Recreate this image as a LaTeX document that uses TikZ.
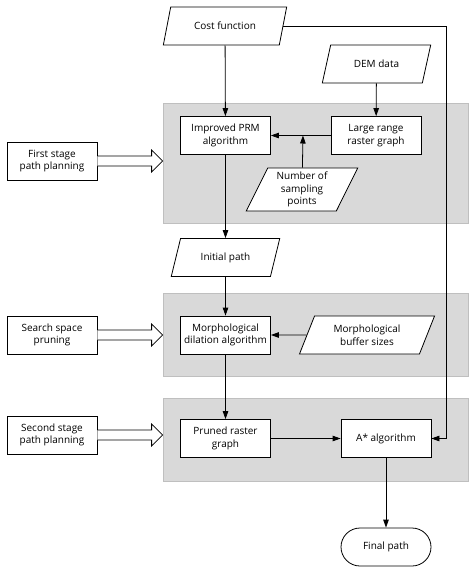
\documentclass[tikz,border=0pt]{standalone}
\usepackage{fontspec}
\setmainfont{Open Sans}
\usetikzlibrary{shapes.geometric,arrows.meta,calc}
\begin{document}
\begin{tikzpicture}[x=1pt,y=-1pt,>={Triangle[length=8pt,width=5.5pt]},
    every node/.style={font=\fontsize{10}{12.5}\selectfont, align=center, line width=0.8pt},
    box/.style={draw, fill=white, minimum width=90pt, minimum height=38pt, inner sep=1pt},
    data/.style={draw, fill=white, trapezium, trapezium left angle=66, trapezium right angle=114,
        trapezium stretches=true, minimum height=38pt, inner sep=1pt},
    stage/.style={draw=black!25, fill=black!15, minimum width=305pt, minimum height=#1, inner sep=0pt},
    hollow/.style={draw, fill=white, line width=0.8pt, to path={
        ($(\tikztostart)+(0,-5)$) -- ($(\tikztotarget)+(-11,-5)$) -- ($(\tikztotarget)+(-11,-11)$)
        -- (\tikztotarget) -- ($(\tikztotarget)+(-11,11)$) -- ($(\tikztotarget)+(-11,5)$)
        -- ($(\tikztostart)+(0,5)$)}},
    line/.style={line width=0.8pt}]
    \useasboundingbox (0,0) rectangle (474,573);
    \node [stage=120pt] (stageA) at (315.5,163) {};
    \node [stage=83pt]  (stageB) at (315.5,334.5) {};
    \node [stage=83pt]  (stageC) at (315.5,439.5) {};
    \node [data, minimum width=124pt] (cost) at (225,26) {Cost function};
    \node [data, minimum width=109pt] (dem)  at (376.5,64) {DEM data};
    \node [box] (prm)   at (225.5,135.5) {Improved PRM\\algorithm};
    \node [box] (large) at (376,135.5) {Large range\\raster graph};
    \node [data, minimum width=112pt, minimum height=43pt] (num) at (302,189.5) {Number of\\sampling\\points};
    \node [box] (first) at (52,161) {First stage\\path planning};
    \node [data, minimum width=109pt] (init) at (225.5,257.5) {Initial path};
    \node [box] (dil)   at (225.5,335) {Morphological\\dilation algorithm};
    \node [data, minimum width=136pt] (buf) at (367,335) {Morphological\\buffer sizes};
    \node [box] (search) at (52,335) {Search space\\pruning};
    \node [box] (pruned) at (225.5,438.5) {Pruned raster\\graph};
    \node [box] (astar)  at (386,438.5) {A* algorithm};
    \node [box] (second) at (52,435) {Second stage\\path planning};
    \node [box, rounded corners=19pt] (final) at (386,547) {Final path};
    \coordinate (join) at (303,135.5);
    \coordinate (bend) at (446,438.5);
    \draw [line, ->] (cost) -- (prm);
    \draw [line, ->] (dem) -- (large);
    \draw [line, ->] (large) -- (prm);
    \draw [line, ->] (num) -- (join);
    \draw [line, ->] (prm) -- (init);
    \draw [line, ->] (init) -- (dil);
    \draw [line, ->] (buf) -- (dil);
    \draw [line, ->] (dil) -- (pruned);
    \draw [line, ->] (pruned) -- (astar);
    \draw [line, ->] (cost.east) -| (bend) -- (astar.east);
    \draw [line, ->] (astar) -- (final);
    \draw [hollow] (first.east) to (first.east -| stageA.west);
    \draw [hollow] (search.east) to (search.east -| stageB.west);
    \draw [hollow] (second.east) to (second.east -| stageC.west);
\end{tikzpicture}
\end{document}
